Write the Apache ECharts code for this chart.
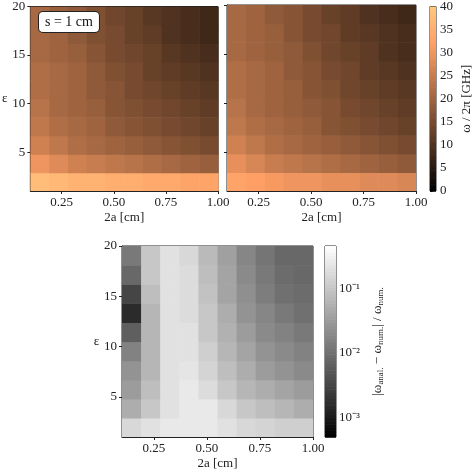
<!DOCTYPE html>
<html><head><meta charset="utf-8">
<script src="https://cdn.jsdelivr.net/npm/echarts@6/dist/echarts.min.js"></script>
<style>html,body{margin:0;padding:0;background:#fff}#c{width:474px;height:472px}</style>
</head><body><div id="c"></div>
<script>
// cell edges
const xEdges = [0.1,0.19,0.28,0.37,0.46,0.55,0.64,0.73,0.82,0.91,1.0];
const yEdges = [1,2.9,4.8,6.7,8.6,10.5,12.4,14.3,16.2,18.1,20];
// top-left: omega/2pi [GHz], rows from low eps to high eps
const freqLeft = [
 [38,37,36,36,35,35,34,34,33,33],
 [30,28,26,25,24,23,22,21,20,19],
 [26,24,22,21,20,19,18,17,16,15],
 [24,22,21,20,18,17,16,15,14,13],
 [23,21,20,19,17,16,15,14,13,12],
 [22,21,20,18,17,15,14,13,12,11],
 [22,21,20,18,16,15,13,12,11,10],
 [21,20,19,17,15,14,13,11,10,9],
 [21,20,18,16,15,13,12,10,9,8],
 [21,19,18,16,14,13,11,10,9,8]
];
const freqRight = [
 [33,32,31,30,30,29,29,28,28,27],
 [29,27,25,24,23,22,21,20,19,18],
 [26,24,22,21,20,19,18,17,16,15],
 [24,22,21,20,19,17,16,15,14,13],
 [23,21,20,19,18,17,15,14,13,12],
 [22,21,20,19,17,16,14,13,12,11],
 [22,21,20,18,17,15,14,12,11,10],
 [21,20,19,18,16,14,13,12,10,9],
 [21,20,19,17,15,14,12,11,10,9],
 [21,20,18,17,15,13,12,10,9,8]
];
// bottom: log10 relative error
const logErr = [
 [-0.8,-0.7,-0.6,-0.6,-0.6,-0.7,-0.8,-0.85,-0.9,-0.9],
 [-1.3,-1.0,-0.7,-0.6,-0.6,-0.8,-1.0,-1.1,-1.2,-1.3],
 [-1.5,-1.1,-0.7,-0.6,-0.75,-1.0,-1.2,-1.3,-1.4,-1.5],
 [-1.6,-1.2,-0.7,-0.65,-0.85,-1.1,-1.3,-1.5,-1.6,-1.7],
 [-1.8,-1.2,-0.7,-0.7,-0.9,-1.2,-1.4,-1.6,-1.7,-1.8],
 [-2.2,-1.2,-0.7,-0.7,-1.0,-1.25,-1.5,-1.7,-1.8,-1.9],
 [-2.8,-1.2,-0.7,-0.75,-1.0,-1.3,-1.6,-1.75,-1.9,-2.0],
 [-2.5,-1.1,-0.7,-0.75,-1.05,-1.4,-1.65,-1.85,-2.0,-2.05],
 [-2.1,-1.0,-0.7,-0.75,-1.1,-1.4,-1.7,-1.9,-2.05,-2.1],
 [-1.9,-1.0,-0.7,-0.8,-1.15,-1.45,-1.75,-1.95,-2.1,-2.1]
];
const xTicks = [0.25,0.5,0.75,1.0];
const yTicks = [5,10,15,20];
const freqTicks = [0,5,10,15,20,25,30,35,40];
const errTicks = [0.001,0.01,0.1];

function copper(v){const t=Math.max(0,Math.min(1,v/40));
 return 'rgb('+Math.round(255*Math.min(1,1.25*t))+','+Math.round(255*0.7812*t)+','+Math.round(255*0.4975*t)+')';}
const LMIN=-3.3, LMAX=-0.35;
function gray(l){const t=Math.max(0,Math.min(1,(l-LMIN)/(LMAX-LMIN)));const g=Math.round(255*t);return 'rgb('+g+','+g+','+g+')';}

function cells(grid){const d=[];grid.forEach((r,j)=>r.forEach((v,i)=>d.push([i,j,v])));return d;}
function mkRender(colorFn){return function(params,api){
 const i=api.value(0),j=api.value(1),v=api.value(2);
 const p0=api.coord([xEdges[i],yEdges[j+1]]),p1=api.coord([xEdges[i+1],yEdges[j]]);
 return {type:'rect',shape:{x:p0[0],y:p0[1],width:p1[0]-p0[0]+0.6,height:p1[1]-p0[1]+0.6},style:{fill:colorFn(v)}};};}

const F='Liberation Serif';
const lab={fontFamily:F,fontSize:13,color:'#222'};
function xAx(idx){return {gridIndex:idx,type:'value',min:0.1,max:1.0,name:'2a [cm]',nameLocation:'middle',nameGap:20,
 nameTextStyle:{fontFamily:F,fontSize:13,color:'#222'},
 axisLine:{lineStyle:{color:'#222'}},splitLine:{show:false},
 axisTick:{customValues:xTicks,length:3,lineStyle:{color:'#222'}},
 axisLabel:Object.assign({customValues:xTicks,formatter:v=>v.toFixed(2),margin:5},lab)};}
function yAx(idx,showLab,name){return {gridIndex:idx,type:'value',min:1,max:20,name:name||'',nameLocation:'middle',nameGap:22,nameRotate:0,
 nameTextStyle:{fontFamily:F,fontSize:13,color:'#222'},
 axisLine:{lineStyle:{color:'#222'}},splitLine:{show:false},
 axisTick:{customValues:yTicks,length:3,lineStyle:{color:'#222'}},
 axisLabel:Object.assign({show:showLab,customValues:yTicks,margin:5},lab)};}

const cbFreq=[];for(let k=0;k<80;k++)cbFreq.push([k*0.5,(k+1)*0.5]);
const cbErr=[];for(let k=0;k<60;k++){const a=LMIN+(LMAX-LMIN)*k/60,b=LMIN+(LMAX-LMIN)*(k+1)/60;cbErr.push([Math.pow(10,a),Math.pow(10,b),(a+b)/2]);}

const sup={'-1':'⁻¹','-2':'⁻²','-3':'⁻³'};
const option={
 animation:false,
 grid:[
  {left:29,top:5,width:189,height:186,show:true,borderColor:'#222',borderWidth:1},
  {left:227,top:5,width:189,height:186,show:true,borderColor:'#222',borderWidth:1},
  {left:430,top:5,width:12,height:186,show:true,borderColor:'#222',borderWidth:1},
  {left:122,top:246,width:191,height:191,show:true,borderColor:'#222',borderWidth:1},
  {left:325,top:246,width:11,height:191,show:true,borderColor:'#222',borderWidth:1}
 ],
 xAxis:[xAx(0),xAx(1),
  {gridIndex:2,type:'value',min:0,max:1,show:false},
  xAx(3),
  {gridIndex:4,type:'value',min:0,max:1,show:false}],
 yAxis:[yAx(0,true,'ε'),yAx(1,false),
  {gridIndex:2,type:'value',min:0,max:40,position:'right',interval:5,
   name:'ω / 2π [GHz]',nameLocation:'middle',nameGap:24,nameRotate:90,nameTextStyle:{fontFamily:F,fontSize:13,color:'#222'},
   axisLine:{show:false},splitLine:{show:false},axisTick:{length:3,lineStyle:{color:'#222'}},axisLabel:Object.assign({margin:4},lab)},
  yAx(3,true,'ε'),
  {gridIndex:4,type:'log',logBase:10,min:Math.pow(10,LMIN),max:Math.pow(10,LMAX),position:'right',
   name:'|ω{s|anal.} − ω{s|num.}| / ω{s|num.}',nameLocation:'middle',nameGap:34,nameRotate:90,
   nameTextStyle:{fontFamily:F,fontSize:13,color:'#222',rich:{s:{fontFamily:F,fontSize:9,color:'#222',verticalAlign:'bottom',padding:[6,0,0,0]}}},
   axisLine:{show:false},splitLine:{show:false},
   axisTick:{customValues:errTicks,length:3,lineStyle:{color:'#222'}},
   axisLabel:Object.assign({customValues:errTicks,margin:3,formatter:v=>'10'+sup[String(Math.round(Math.log10(v)))]},lab)}
 ],
 series:[
  {type:'custom',xAxisIndex:0,yAxisIndex:0,data:cells(freqLeft),renderItem:mkRender(copper),clip:true},
  {type:'custom',xAxisIndex:1,yAxisIndex:1,data:cells(freqRight),renderItem:mkRender(copper),clip:true},
  {type:'custom',xAxisIndex:2,yAxisIndex:2,data:cbFreq,renderItem:function(p,api){
    const a=api.coord([0,api.value(1)]),b=api.coord([1,api.value(0)]);
    return {type:'rect',shape:{x:a[0],y:a[1],width:b[0]-a[0],height:b[1]-a[1]+0.6},style:{fill:copper((api.value(0)+api.value(1))/2)}};}},
  {type:'custom',xAxisIndex:3,yAxisIndex:3,data:cells(logErr),renderItem:mkRender(gray),clip:true},
  {type:'custom',xAxisIndex:4,yAxisIndex:4,data:cbErr,renderItem:function(p,api){
    const a=api.coord([0,api.value(1)]),b=api.coord([1,api.value(0)]);
    return {type:'rect',shape:{x:a[0],y:a[1],width:b[0]-a[0],height:b[1]-a[1]+0.6},style:{fill:gray(api.value(2))}};}}
 ],
 graphic:[{type:'text',left:38,top:11,z:100,style:{text:'s = 1 cm',fontFamily:F,fontSize:14,fill:'#111',
   backgroundColor:'#fff',borderColor:'#222',borderWidth:1,borderRadius:4,padding:[3,6]}}]
};
echarts.init(document.getElementById('c')).setOption(option);
</script></body></html>
